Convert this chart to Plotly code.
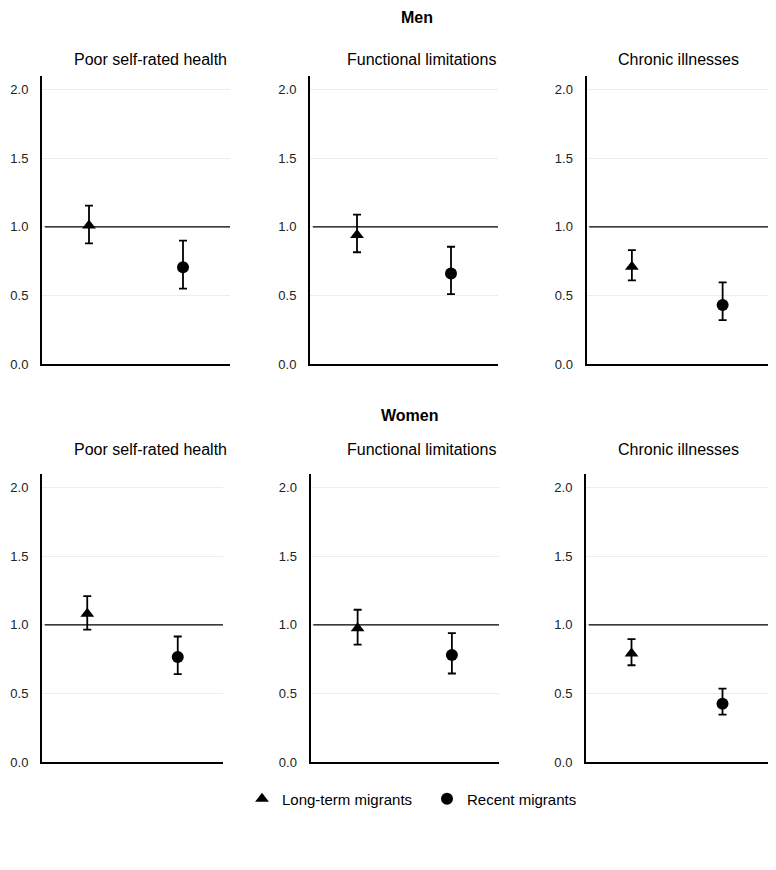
import plotly.graph_objects as go

# odds ratios, order: poor SRH, functional limitations, chronic illnesses
outcomes = ["Poor self-rated health", "Functional limitations", "Chronic illnesses"]
groups = ["Long-term migrants", "Recent migrants"]

men_long = [1.01, 0.94, 0.71]
men_long_lo = [0.88, 0.815, 0.61]
men_long_hi = [1.155, 1.09, 0.83]
men_recent = [0.705, 0.66, 0.43]
men_recent_lo = [0.55, 0.51, 0.32]
men_recent_hi = [0.90, 0.855, 0.595]

women_long = [1.08, 0.975, 0.79]
women_long_lo = [0.965, 0.855, 0.705]
women_long_hi = [1.21, 1.11, 0.895]
women_recent = [0.765, 0.78, 0.425]
women_recent_lo = [0.64, 0.645, 0.345]
women_recent_hi = [0.915, 0.94, 0.535]

yticks = [0, 0.5, 1.0, 1.5, 2.0]

# page has an 8px body margin on every side, keep the figure inside the window
OFF = 8
W, H = 776 - 2 * OFF, 870 - 2 * OFF
YS = 870 / 862  # the snapshot comes out squeezed a little vertically
FONT = "Liberation Sans, Arial, sans-serif"


def px(x):
    return (x - OFF) / W


def py(y):
    return 1 - (y * YS - OFF) / H


# panel boxes in page pixels (left, right, top, bottom)
panels = [
    (42, 230, 76, 364), (310, 498, 76, 364), (586.5, 775, 76, 364),
    (42, 223, 474, 762), (310.5, 499, 474, 762), (586, 775, 474, 762),
]
title_x = [150, 421.7, 678]

rows = [
    ("Men", men_long, men_long_lo, men_long_hi, men_recent, men_recent_lo, men_recent_hi),
    ("Women", women_long, women_long_lo, women_long_hi, women_recent, women_recent_lo, women_recent_hi),
]

fig = go.Figure()
layout = {}
annotations = []
shapes = []

k = 0
for r, (sex, lg, lg_lo, lg_hi, rc, rc_lo, rc_hi) in enumerate(rows):
    for c, name in enumerate(outcomes):
        k += 1
        xa = "x" if k == 1 else f"x{k}"
        ya = "y" if k == 1 else f"y{k}"
        l, rr, t, b = panels[k - 1]

        for gi, (vals, lo, hi, sym, size) in enumerate([
            (lg, lg_lo, lg_hi, "triangle-up", 12),
            (rc, rc_lo, rc_hi, "circle", 12),
        ]):
            fig.add_trace(go.Scatter(
                x=[groups[gi]], y=[vals[c]],
                mode="markers",
                marker=dict(symbol=sym, size=size, color="black"),
                error_y=dict(type="data", symmetric=False,
                             array=[hi[c] - vals[c]], arrayminus=[vals[c] - lo[c]],
                             color="black", thickness=1.8, width=4),
                xaxis=xa, yaxis=ya, showlegend=False, hoverinfo="skip",
            ))

        layout["xaxis" if k == 1 else f"xaxis{k}"] = dict(
            domain=[px(l), min(px(rr), 1)], anchor=ya,
            type="category", categoryorder="array", categoryarray=groups,
            range=[-0.5, 1.5], showticklabels=False, ticks="",
            showline=True, linecolor="black", linewidth=2,
            showgrid=False, zeroline=False, fixedrange=True,
        )
        layout["yaxis" if k == 1 else f"yaxis{k}"] = dict(
            domain=[py(b), py(t)], anchor=xa,
            range=[0, 2.1], tickvals=yticks, tickformat=".1f",
            ticks="", ticklabelstandoff=9,
            tickfont=dict(size=13, color="#222", family=FONT),
            showline=True, linecolor="black", linewidth=2,
            showgrid=True, gridcolor="#ececec", gridwidth=1,
            zeroline=False, fixedrange=True,
        )

        # reference line at OR = 1
        shapes.append(dict(type="line", xref=f"{xa} domain", yref=ya,
                           x0=0.015, x1=1, y0=1, y1=1,
                           line=dict(color="black", width=1.2)))

        annotations.append(dict(
            text=name, xref="paper", yref="paper",
            x=px(title_x[c]), y=py(59 if r == 0 else 450),
            xanchor="center", yanchor="middle", showarrow=False,
            font=dict(size=16, color="black", family=FONT),
        ))

annotations.append(dict(text="<b>Men</b>", xref="paper", yref="paper",
                        x=px(416.5), y=py(17), showarrow=False,
                        xanchor="center", yanchor="middle",
                        font=dict(size=16, color="black", family=FONT)))
annotations.append(dict(text="<b>Women</b>", xref="paper", yref="paper",
                        x=px(409.5), y=py(415), showarrow=False,
                        xanchor="center", yanchor="middle",
                        font=dict(size=16, color="black", family=FONT)))

# legend entries
for g, sym, size in [(groups[0], "triangle-up", 12), (groups[1], "circle", 12)]:
    fig.add_trace(go.Scatter(x=[None], y=[None], mode="markers", name=g,
                             marker=dict(symbol=sym, size=size, color="black"),
                             xaxis="x", yaxis="y"))

fig.update_layout(
    **layout,
    width=W, height=H,
    margin=dict(l=0, r=0, t=0, b=0),
    paper_bgcolor="white", plot_bgcolor="white",
    font=dict(family=FONT, color="black"),
    annotations=annotations, shapes=shapes,
    legend=dict(orientation="h", x=px(242), y=py(799),
                xanchor="left", yanchor="middle",
                entrywidth=140, itemwidth=30,
                font=dict(size=15, color="black", family=FONT)),
)

fig.write_html("out.html")
